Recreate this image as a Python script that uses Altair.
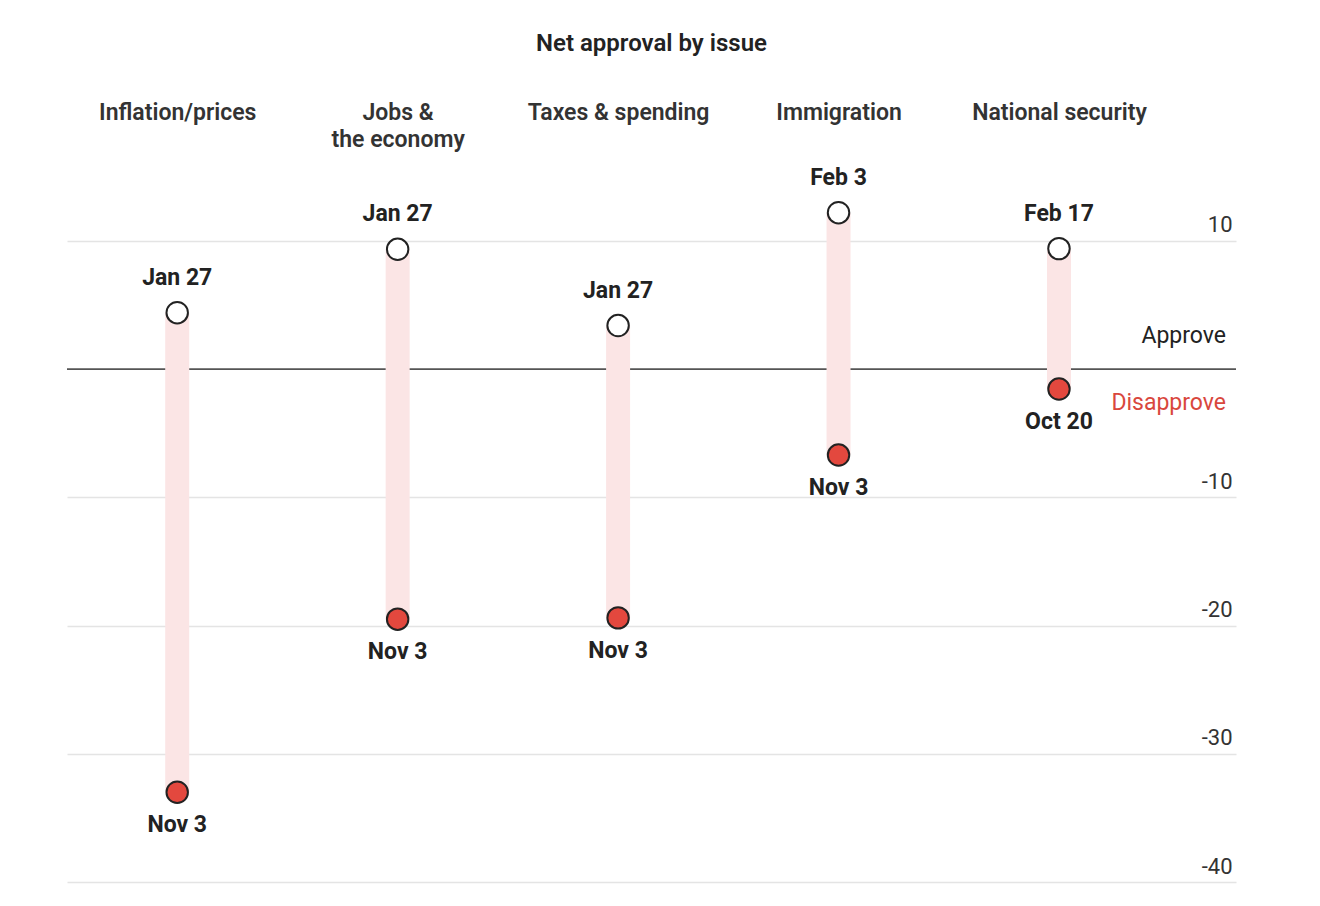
import altair as alt
import pandas as pd

issues = ["Inflation/prices", "Jobs &|the economy", "Taxes & spending", "Immigration", "National security"]
start_dates = ["Jan 27", "Jan 27", "Jan 27", "Feb 3", "Feb 17"]
start_vals = [4.4, 9.35, 3.4, 12.2, 9.4]
end_dates = ["Nov 3", "Nov 3", "Nov 3", "Nov 3", "Oct 20"]
end_vals = [-33.0, -19.5, -19.4, -6.7, -1.55]
y_ticks = [-40, -30, -20, -10, 10]

df = pd.DataFrame({
    "issue": issues,
    "start": start_vals,
    "end": end_vals,
    "start_date": start_dates,
    "end_date": end_dates,
})

FONT = "Roboto"
W, H = 1169, 718

x = alt.X("issue:N", sort=issues,
          scale=alt.Scale(type="point", padding=0.6515, align=0.3837),
          axis=alt.Axis(orient="top", title=None, domain=False, ticks=False, tickSize=0,
                        grid=False, labelLimit=400,
                        labelAngle=0, labelBaseline="top", labelPadding=63,
                        labelExpr="split(datum.label, '|')", labelLineHeight=27,
                        labelFont=FONT, labelFontSize=23, labelFontWeight=600,
                        labelColor="#333333"))

yscale = alt.Scale(domain=[-40, 16], nice=False, zero=False)

base = alt.Chart(df)

zero = alt.Chart(pd.DataFrame({"z": [0]})).mark_rule(color="#555555", strokeWidth=1.6).encode(
    y=alt.Y("z:Q", scale=yscale,
            axis=alt.Axis(orient="right", title=None, values=y_ticks, grid=True,
                          gridColor="#e4e4e4", gridWidth=1.6, domain=False, ticks=False,
                          labelAlign="right", labelBaseline="alphabetic", labelPadding=-4,
                          labelOffset=-9, labelFont=FONT, labelFontSize=22,
                          labelExpr="datum.value + ''",
                          labelColor="#333333"))
)

bars = base.mark_bar(size=24, color="#fbe5e5").encode(
    x=x,
    y=alt.Y("start:Q", scale=yscale),
    y2="end:Q",
)

start_pts = base.mark_point(filled=True, shape="circle", size=460, fill="white",
                            stroke="#222222", strokeWidth=2, opacity=1).encode(
    x=x, y=alt.Y("start:Q", scale=yscale))

end_pts = base.mark_point(filled=True, shape="circle", size=460, fill="#e3483e",
                          stroke="#222222", strokeWidth=2, opacity=1).encode(
    x=x, y=alt.Y("end:Q", scale=yscale))

start_lbl = base.mark_text(font=FONT, fontSize=23, fontWeight=700, color="#222222",
                           baseline="alphabetic", dy=-28).encode(
    x=x, y=alt.Y("start:Q", scale=yscale), text="start_date:N")

end_lbl = base.mark_text(font=FONT, fontSize=23, fontWeight=700, color="#222222",
                         baseline="alphabetic", dy=40).encode(
    x=x, y=alt.Y("end:Q", scale=yscale), text="end_date:N")

ann_text = ["Approve", "Disapprove"]
ann_y = [2.6, -2.65]
ann_col = ["#222222", "#d9473d"]
ann = alt.Chart(pd.DataFrame({"t": ann_text, "v": ann_y, "c": ann_col})).mark_text(
    font=FONT, fontSize=23, align="right", baseline="middle").encode(
    x=alt.value(W - 10),
    y=alt.Y("v:Q", scale=yscale),
    text="t:N",
    color=alt.Color("c:N", scale=None),
)

chart = alt.layer(zero, bars, start_pts, end_pts, start_lbl, end_lbl, ann).properties(
    width=W, height=H,
    background="white",
    title=alt.TitleParams("Net approval by issue", font=FONT, fontSize=24, fontWeight=600,
                          color="#222222", anchor="middle", offset=45),
    autosize=alt.AutoSizeParams(type="none"),
    padding={"left": 59, "top": 156, "right": 76, "bottom": 20},
).configure_view(strokeWidth=0, stroke="transparent")

chart.save("out.html", embed_options={"renderer": "svg", "actions": False})
